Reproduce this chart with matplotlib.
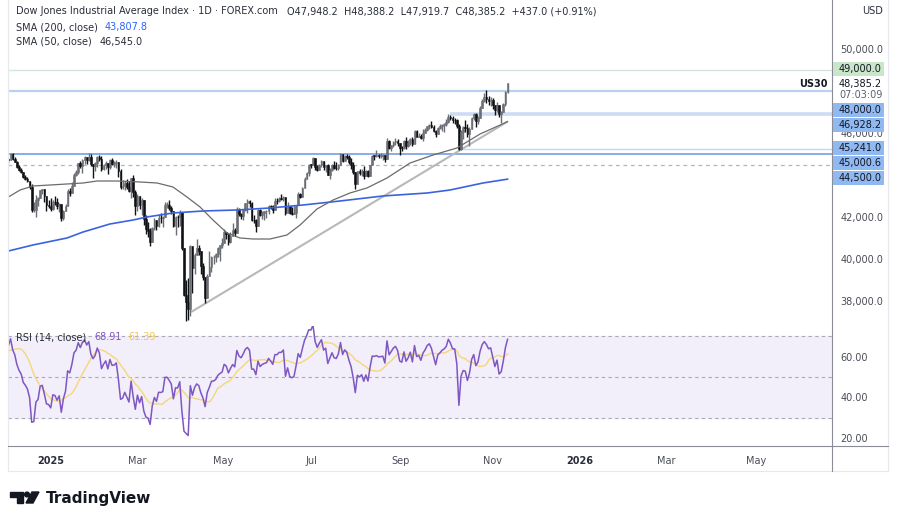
import numpy as np
import pandas as pd
import matplotlib
matplotlib.use("Agg")
import matplotlib.pyplot as plt
from matplotlib.patches import Rectangle, Polygon

######################################################################################################################
# US30 daily bars, 3 Dec 2024 .. 12 Nov 2025 (open = previous close)
first_open = 44780
close = [
    44705, 45014, 44766, 44643, 44401, 44248, 44149, 43914, 43828, 43717, 43450, 42327, 42342, 42840, 42907, 43297, 43326, 42992, 42574, 42544,
    42392, 42732, 42706, 42528, 42635, 41938, 42297, 42518, 43222, 43153, 43488, 44025, 44157, 44565, 44424, 44714, 44850, 44714, 44882, 44544,
    44422, 44556, 44873, 44747, 44303, 44470, 44593, 44368, 44711, 44546, 44556, 44627, 44177, 43428, 43461, 43621, 43433, 43240, 43841,
    43191, 42521, 43007, 42579, 42802, 41912, 41433, 41350, 40814, 41488, 41842, 41582, 41965, 41953, 41985, 42583, 42588, 42455, 42300, 41584, 42002,
    41990, 42226, 40546, 38315, 37966, 37646, 40609, 39594, 40213, 40525, 40369, 39669, 39142, 38170, 39187, 39607, 40093, 40114, 40228, 40527, 40669,
    40753, 41317, 41219, 40829, 41114, 41368, 41249, 42410, 42141, 42051, 42323, 42655, 42792, 42677, 41860, 41859, 41603, 42343, 42099, 42216, 42270,
    42305, 42520, 42428, 42319, 42763, 42762, 42867, 42866, 42968, 42198, 42515, 42215, 42172, 42207, 42582, 43089, 42982, 43386, 43819, 44095,
    44495, 44484, 44829, 44406, 44241, 44458, 44651, 44372, 44460, 44023, 44254, 44484, 44342, 44323, 44502, 45010, 44694, 44902, 44838, 44633, 44461, 44131,
    43589, 44174, 44112, 44193, 43969, 44176, 43975, 44459, 44922, 44912, 44946, 44912, 44922, 44938, 44786, 45632, 45282, 45418, 45565, 45637, 45545,
    45296, 45271, 45621, 45401, 45515, 45711, 45490, 46108, 45834, 45883, 45758, 46018, 46142, 46315, 46382, 46292, 46121, 45947, 46247, 46316, 46398,
    46441, 46519, 46758, 46695, 46603, 46602, 46358, 45241, 46068, 46270, 46253, 45952, 46191, 46707, 46924, 46590, 46735, 47207, 47545, 47706, 47632, 47522, 47563,
    47337, 47085, 47311, 46912, 46987, 47368, 47948, 48385.2,
]
high = [
    44790, 45070, 45054, 44860, 44680, 44480, 44330, 44170, 44010, 43900, 43700, 43600, 42720, 43050, 42950, 43310, 43360, 43260, 42870, 42800,
    42900, 42800, 43000, 42930, 42680, 42530, 42330, 42650, 43350, 43400, 43680, 44080, 44240, 44580, 44690, 44780, 44900, 44850, 45050, 45000,
    44540, 44600, 44890, 44950, 44900, 44550, 44650, 44450, 44750, 44800, 44650, 44700, 44600, 44300, 43750, 43700, 43800, 43700, 43880,
    44000, 43300, 43100, 42900, 42890, 42650, 42100, 41750, 41500, 41550, 41950, 41800, 42150, 42200, 42050, 42700, 42700, 42800, 42520, 42280, 42050,
    42100, 42350, 41700, 40500, 39000, 39120, 40660, 40500, 40300, 40950, 40700, 40300, 39800, 39000, 39300, 40400, 40150, 40200, 40300, 40600, 40700,
    41000, 41450, 41300, 41100, 41300, 41700, 41500, 42470, 42450, 42200, 42400, 42680, 42850, 42800, 42700, 42100, 41900, 42400, 42400, 42300, 42300,
    42350, 42600, 42600, 42600, 42900, 42900, 42950, 43100, 43000, 42700, 42700, 42500, 42500, 42550, 42600, 43200, 43150, 43450, 43900, 44150,
    44550, 44550, 44880, 44800, 44500, 44550, 44700, 44600, 44500, 44550, 44350, 44550, 44650, 44600, 44550, 45050, 45000, 44950, 45000, 44950, 44800, 44600,
    44000, 44200, 44300, 44300, 44450, 44250, 44250, 44500, 44950, 44950, 45200, 45000, 45050, 45000, 44950, 45750, 45650, 45450, 45600, 45750, 45700,
    45450, 45400, 45650, 45800, 45650, 45750, 45800, 46150, 46150, 46000, 45950, 46200, 46250, 46350, 46450, 46550, 46400, 46150, 46300, 46450, 46420,
    46500, 46650, 46900, 46850, 46800, 46700, 46650, 46450, 46150, 46350, 46600, 46450, 46300, 46750, 46950, 46950, 46800, 47300, 47600, 47900, 48050, 47750, 47700,
    47650, 47250, 47500, 47350, 47050, 47450, 48000, 48388.2,
]
low = [
    44580, 44700, 44740, 44600, 44360, 44200, 44110, 43880, 43770, 43650, 43330, 42230, 42260, 42000, 42550, 42900, 43100, 42700, 42300, 42450,
    42270, 42360, 42600, 42400, 42240, 41840, 41850, 42300, 42850, 43030, 43300, 43500, 43950, 44050, 44350, 44100, 44520, 44550, 44650, 44450,
    43880, 44200, 44400, 44650, 44200, 44250, 44300, 44050, 44300, 44500, 44400, 44350, 43900, 43350, 43350, 43300, 43350, 43200, 42900,
    42950, 42100, 42300, 42400, 42100, 41650, 41200, 41050, 40650, 40900, 41400, 41400, 41550, 41700, 41550, 42150, 42450, 42350, 42150, 41550, 41150,
    41550, 41600, 40450, 38250, 37050, 37100, 37300, 38400, 39300, 40250, 40200, 39300, 39000, 37900, 38300, 39400, 39400, 39750, 39850, 40100, 39900,
    40550, 40950, 40950, 40700, 40750, 41100, 41100, 41850, 42050, 41900, 41850, 42300, 42200, 42500, 41800, 41700, 41300, 41800, 42050, 41900, 41850,
    41950, 42150, 42380, 42200, 42450, 42650, 42700, 42800, 42750, 42100, 42300, 42150, 42100, 42150, 41950, 42750, 42900, 43000, 43400, 43800,
    43950, 44350, 44500, 44250, 44200, 44250, 44400, 44250, 44150, 44000, 43800, 44200, 44300, 44250, 44250, 44600, 44600, 44650, 44750, 44550, 44300, 44050,
    43350, 43650, 44000, 43950, 43800, 43950, 43900, 43950, 44500, 44700, 44850, 44800, 44800, 44700, 44600, 44750, 45250, 45150, 45350, 45450, 45400,
    44950, 45150, 45250, 45250, 45350, 45450, 45400, 45550, 45800, 45800, 45700, 45600, 46000, 46100, 46200, 46250, 46050, 45800, 45950, 46200, 46100,
    46050, 46350, 46500, 46600, 46500, 46450, 46250, 45200, 45200, 45700, 46050, 45800, 45400, 46250, 46600, 46300, 46450, 46850, 47300, 47500, 47450, 47350, 47300,
    47150, 46850, 47000, 46750, 46480, 47050, 47300, 47919.7,
]
# mid Oct .. 2 Dec 2024 closes, only used to start the RSI
warmup_close = [43065, 43077, 43239, 43275, 42931, 42924, 42514, 42374, 42114, 42387, 42233, 42141, 41763, 42052, 41794, 42222,
                43730, 43729, 43989, 44293, 43911, 43958, 43751, 43445, 43390, 43269, 43408, 43870, 44297, 44736, 44860, 44722, 44911, 44782]

# moving averages (bar index, value)
sma200_bar = [0, 11.6, 27.7, 35.3, 48, 59, 65.5, 77.8, 92, 108, 123.7, 139.3, 156.8, 177, 198, 208.8, 224.4, 236]
sma200_val = [40392, 40677, 41010, 41295, 41676, 41866, 42009, 42199, 42294, 42341, 42437, 42579, 42769, 43007, 43150, 43292, 43625, 43808]
sma50_bar = [0, 5.5, 11.6, 19.7, 27.7, 35.3, 41.9, 51.3, 62.2, 70.3, 77.8, 84.4, 90.6, 96.7, 103.4, 109.5, 115.6, 123.7, 131.7,
             137.9, 145.9, 153.5, 161.5, 169.5, 179, 189.9, 200.8, 212.1, 223, 232.5, 236]
sma50_val = [42960, 43292, 43483, 43530, 43578, 43625, 43720, 43720, 43673, 43625, 43435, 42960, 42484, 41866, 41248, 41010, 40962, 40962, 41153,
             41628, 42389, 42817, 43150, 43388, 43863, 44576, 44957, 45290, 45955, 46383, 46545]

trend_bar = [86.8, 235.7]
trend_val = [37515, 46526]

# horizontal levels: value, first bar
level_49000 = 49000.0
level_48000 = 48000.0
level_46928 = (46928.2, 209)
level_45241 = (45241.0, 213)
level_45000 = 45000.6
level_44500 = 44500.0

month_bar = [20, 60.7, 101.3, 143.4, 185.2, 229, 270.3, 310.9, 353.5]
month_lab = ["2025", "Mar", "May", "Jul", "Sep", "Nov", "2026", "Mar", "May"]
######################################################################################################################
W, H = 902, 528
plt.rcParams['font.family'] = ['DejaVu Sans']
fig = plt.figure(figsize=(W / 100, H / 100), dpi=100)


def rect(x0, y0, x1, y1):
    return [x0 / W, 1 - y1 / H, (x1 - x0) / W, (y1 - y0) / H]


ax = fig.add_axes(rect(8, 0, 832, 326))
axr = fig.add_axes(rect(8, 326, 832, 446), sharex=ax)
ov = fig.add_axes([0, 0, 1, 1])
ov.set_xlim(0, W)
ov.set_ylim(H, 0)
ov.axis('off')

txt = '#4a4d57'
for a in (ax, axr):
    for s in a.spines.values():
        s.set_visible(False)
    a.set_facecolor('none')

# candles
c = np.array(close, dtype=float)
o = np.concatenate([[first_open], c[:-1]])
hi = np.maximum(np.array(high, dtype=float), np.maximum(o, c))
lo = np.minimum(np.array(low, dtype=float), np.minimum(o, c))
x = np.arange(len(c))
up = c >= o
col = np.where(up, '#6c6e75', '#101114')
ax.vlines(x, lo, hi, colors=col, lw=1.0, zorder=4)
ax.bar(x, np.maximum(np.abs(c - o), 30), bottom=np.minimum(o, c), width=0.8, color=col,
       edgecolor=col, lw=0.4, zorder=5)

# levels
ax.axhline(level_49000, color='#d2e6df', lw=1.0, zorder=2)
ax.axhline(level_48000, color='#b9d0ee', lw=1.6, zorder=2)
ax.hlines(level_46928[0], level_46928[1], 400, color='#cddcf4', lw=2.6, zorder=2)
ax.hlines(level_45241[0], level_45241[1], 400, color='#c3d6f3', lw=1.0, zorder=2)
ax.axhline(level_45000, color='#739ee6', lw=1.2, zorder=2)
ax.axhline(level_44500, color='#b4b6bd', lw=0.9, ls=(0, (3, 3)), zorder=2)

ax.plot(sma200_bar, sma200_val, color='#3b63e0', lw=1.2, zorder=6)
ax.plot(sma50_bar, sma50_val, color='#6b6b6b', lw=0.9, zorder=6)
ax.plot(trend_bar, trend_val, color='#b8b8b8', lw=1.5, zorder=3)

ax.set_xlim(-0.2, 389.4)
ax.set_ylim(36825, 52327)
ax.yaxis.tick_right()
ax.set_yticks([38000, 40000, 42000, 46000, 50000])
ax.set_yticklabels(['{:,.1f}'.format(v) for v in [38000, 40000, 42000, 46000, 50000]])
ax.tick_params(axis='y', length=0, pad=6, labelsize=7, labelcolor=txt)
ax.tick_params(axis='x', bottom=False, labelbottom=False)

# RSI
s = pd.Series(warmup_close + close, dtype=float)
d = s.diff()
gain = d.clip(lower=0).ewm(alpha=1 / 14, adjust=False).mean()
loss = (-d.clip(upper=0)).ewm(alpha=1 / 14, adjust=False).mean()
rsi = 100 - 100 / (1 + gain / loss)
rsi_ma = rsi.rolling(14).mean()
rsi = rsi.values[-len(close):]
rsi_ma = rsi_ma.values[-len(close):]

axr.axhspan(30, 70, color='#f2eefa', zorder=0)
for lv in (70, 50, 30):
    axr.axhline(lv, color='#a9abb3', lw=0.8, ls=(0, (3, 3)), zorder=1)
axr.plot(x, rsi_ma, color='#f5d77a', lw=1.0, zorder=3)
axr.plot(x, rsi, color='#7e57c2', lw=1.1, zorder=4)
axr.set_ylim(16.3, 74.9)
axr.yaxis.tick_right()
axr.set_yticks([20, 40, 60])
axr.set_yticklabels(['20.00', '40.00', '60.00'])
axr.tick_params(axis='y', length=0, pad=6, labelsize=7, labelcolor=txt)
axr.set_xticks(month_bar)
axr.set_xticklabels(month_lab)
axr.tick_params(axis='x', length=0, pad=7, labelsize=7, labelcolor=txt)
for t in axr.get_xticklabels():
    if t.get_text().isdigit():
        t.set_fontweight('bold')
        t.set_color('#2a2e39')

# frame
ov.plot([8, 8], [0, 471], color='#e6e8ee', lw=0.8)
ov.plot([888, 888], [0, 471], color='#e6e8ee', lw=0.8)
ov.plot([8, 888], [471, 471], color='#e6e8ee', lw=0.8)
ov.plot([832, 832], [0, 471], color='#8a8d96', lw=0.8)
ov.plot([8, 888], [446, 446], color='#8a8d96', lw=0.8)

# legend texts
ov.text(16, 11, 'Dow Jones Industrial Average Index · 1D · FOREX.com', fontsize=7, color='#2a2e39', va='center')
ov.text(287, 11, 'O47,948.2  H48,388.2  L47,919.7  C48,385.2  +437.0 (+0.91%)', fontsize=7, color='#2a2e39', va='center')
ov.text(16, 27, 'SMA (200, close)', fontsize=7, color='#2a2e39', va='center')
ov.text(105, 27, '43,807.8', fontsize=7, color='#2962ff', va='center')
ov.text(16, 42, 'SMA (50, close)', fontsize=7, color='#2a2e39', va='center')
ov.text(100, 42, '46,545.0', fontsize=7, color='#2a2e39', va='center')
ov.text(16, 337, 'RSI (14, close)', fontsize=7, color='#2a2e39', va='center')
ov.text(94, 337, '68.91', fontsize=7, color='#7e57c2', va='center')
ov.text(128, 337, '61.39', fontsize=7, color='#f0c74a', va='center')
ov.text(862, 11, 'USD', fontsize=7, color='#2a2e39', va='center')
ov.text(828, 84, 'US30', fontsize=7, color='#131722', va='center', ha='right', fontweight='bold')

# right scale labels
boxes = [(69, '49,000.0', '#c8e6c9'), (110, '48,000.0', '#90b9f2'), (125, '46,928.2', '#90b9f2'),
         (148, '45,241.0', '#90b9f2'), (163, '45,000.6', '#90b9f2'), (178, '44,500.0', '#90b9f2')]
for yc, lab, fc in boxes:
    ov.add_patch(Rectangle((833, yc - 7.3), 51, 14.6, facecolor=fc, edgecolor='none', zorder=5))
    ov.text(839, yc, lab, fontsize=7, color='#131722', va='center', zorder=6)
ov.text(839, 84, '48,385.2', fontsize=7, color='#131722', va='center')
ov.text(839, 95, '07:03:09', fontsize=7, color='#5d606b', va='center')

# TradingView logo
ov.add_patch(Polygon([[10, 492], [23, 492], [23, 503], [17, 503], [17, 497], [10, 497]], closed=True, color='#131722'))
ov.add_patch(plt.Circle((27, 494.5), 2.4, color='#131722'))
ov.add_patch(Polygon([[32, 492], [39, 492], [33, 503], [26, 503]], closed=True, color='#131722'))
ov.text(46, 498, 'TradingView', fontsize=11, fontweight='bold', color='#131722', va='center')

fig.savefig('out.png', dpi=100)
